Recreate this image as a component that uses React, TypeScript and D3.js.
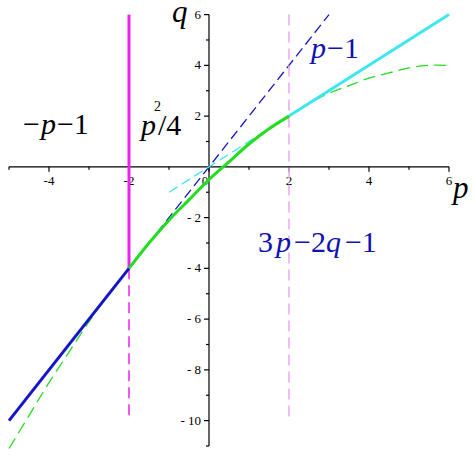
import * as d3 from "d3";

// chart data
const greenP = [-5, -4.5, -4, -3.5, -3, -2.5, -2, -1.5, -1, -0.5, 0, 0.5, 1, 1.5, 2, 2.5, 3, 3.5, 4, 4.5, 5, 5.5, 6];
const greenQ = [-11.1, -9.8, -8.5, -7.3, -6.1, -5.0, -4.0, -3.0, -2.1, -1.3, -0.5, 0.2, 0.9, 1.5, 2.0, 2.5, 2.9, 3.2, 3.5, 3.7, 3.9, 4.0, 4.0];
const blueSolid: [number, number][] = [[-5, -10], [-2, -4]];
const blueDashed: [number, number][] = [[-2, -4], [3, 6]];
const cyanDashed: [number, number][] = [[-1, -1], [2, 2]];
const cyanSolid: [number, number][] = [[2, 2], [6, 6]];
const magentaSolid: [number, number][] = [[-2, 6], [-2, -4]];
const magentaDashed: [number, number][] = [[-2, -4], [-2, -10]];
const pinkDashed: [number, number][] = [[2, 6], [2, -10]];
const xTicks = [-4, -2, 0, 2, 4, 6];
const yTicks = [-10, -8, -6, -4, -2, 2, 4, 6];

const W = 474;
const H = 458;
const serif = "Liberation Serif, Times New Roman, DejaVu Serif, serif";

export default function App() {
  const x = d3.scaleLinear().domain([-5, 6]).range([9, 449]);
  const y = d3.scaleLinear().domain([-11, 6]).range([446, 14.6]);

  const line = d3.line<[number, number]>().x((d) => x(d[0])).y((d) => y(d[1]));
  const smooth = d3
    .line<[number, number]>()
    .x((d) => x(d[0]))
    .y((d) => y(d[1]))
    .curve(d3.curveCatmullRom);

  const green: [number, number][] = greenP.map((p, i) => [p, greenQ[i]]);
  const greenMid = green.filter((d) => d[0] >= -2 && d[0] <= 2);

  const x0 = x(0);
  const y0 = y(0);
  const xMinor = d3.range(-5, 7, 1).filter((v) => v % 2 !== 0);
  const yMinor = d3.range(-11, 7, 1).filter((v) => v % 2 !== 0);

  const blue = "#1414c8";
  const cyan = "#3ee6f0";
  const grn = "#22dd22";
  const mag = "#f020f0";
  const pink = "#eaa8ee";
  const txt = { fontFamily: serif };

  return (
    <svg
      width={W}
      height={H}
      style={{ position: "absolute", left: 0, top: 0, background: "#fff" }}
    >
      {/* axes */}
      <g stroke="#000" strokeWidth={1.2}>
        <line x1={x(-5)} x2={x(6)} y1={y0} y2={y0} />
        <line x1={x0} x2={x0} y1={y(6)} y2={y(-11)} />
        {xTicks.map((t) => (
          <line key={"xt" + t} x1={x(t)} x2={x(t)} y1={y0} y2={y0 + 5} />
        ))}
        {xMinor.map((t) => (
          <line key={"xm" + t} x1={x(t)} x2={x(t)} y1={y0} y2={y0 + 3} />
        ))}
        {yTicks.map((t) => (
          <line key={"yt" + t} x1={x0 - 5} x2={x0} y1={y(t)} y2={y(t)} />
        ))}
        {yMinor.map((t) => (
          <line key={"ym" + t} x1={x0 - 3} x2={x0} y1={y(t)} y2={y(t)} />
        ))}
      </g>
      <g style={txt} fontSize={13} fill="#000">
        {xTicks.map((t) => (
          <text
            key={"xl" + t}
            x={t === 0 ? x(t) - 4 : x(t)}
            y={y0 + 18}
            textAnchor="middle"
          >
            {t < 0 ? "-" + Math.abs(t) : t}
          </text>
        ))}
        {yTicks.map((t) => (
          <text key={"yl" + t} x={x0 - 8} y={y(t) + 4} textAnchor="end">
            {t < 0 ? "- " + Math.abs(t) : t}
          </text>
        ))}
      </g>

      {/* dashed curves */}
      <g fill="none">
        <path d={smooth(green) || ""} stroke={grn} strokeWidth={1.3} strokeDasharray="12,6" />
        <path d={line(blueDashed) || ""} stroke={blue} strokeWidth={1.3} strokeDasharray="10,5" />
        <path d={line(cyanDashed) || ""} stroke={cyan} strokeWidth={1.3} strokeDasharray="10,5" />
        <path d={line(pinkDashed) || ""} stroke={pink} strokeWidth={1.5} strokeDasharray="11,6" />
        <path d={line(magentaDashed) || ""} stroke={mag} strokeWidth={1.5} strokeDasharray="11,6" />
      </g>

      {/* solid pieces */}
      <g fill="none" strokeLinecap="butt">
        <path d={line(magentaSolid) || ""} stroke={mag} strokeWidth={3} />
        <path d={line(blueSolid) || ""} stroke={blue} strokeWidth={3} />
        <path d={line(cyanSolid) || ""} stroke={cyan} strokeWidth={3} />
        <path d={smooth(greenMid) || ""} stroke={grn} strokeWidth={3} />
      </g>

      {/* axis names */}
      <text x={172} y={22} style={txt} fontSize={31} fontStyle="italic">q</text>
      <text x={453} y={198} style={txt} fontSize={31} fontStyle="italic">p</text>

      {/* region labels */}
      <text x={23} y={134} style={txt} fontSize={30} fill="#000">
        −<tspan fontStyle="italic" dx={1}>p</tspan>
        <tspan dx={1}>−1</tspan>
      </text>
      <text x={141} y={135} style={txt} fontSize={30} fontStyle="italic" fill="#000">p</text>
      <text x={154} y={111} style={txt} fontSize={14} fill="#000">2</text>
      <text x={158} y={135} style={txt} fontSize={30} fill="#000">/4</text>
      <text x={311} y={58} style={txt} fontSize={30} fill="#1010b4">
        <tspan fontStyle="italic">p</tspan>
        <tspan dx={1}>−1</tspan>
      </text>
      <text x={258} y={252} style={txt} fontSize={30} fill="#1010b4">
        3<tspan fontStyle="italic" dx={3}>p</tspan>
        <tspan dx={3}>−2</tspan>
        <tspan fontStyle="italic">q</tspan>
        <tspan dx={4}>−1</tspan>
      </text>
    </svg>
  );
}
